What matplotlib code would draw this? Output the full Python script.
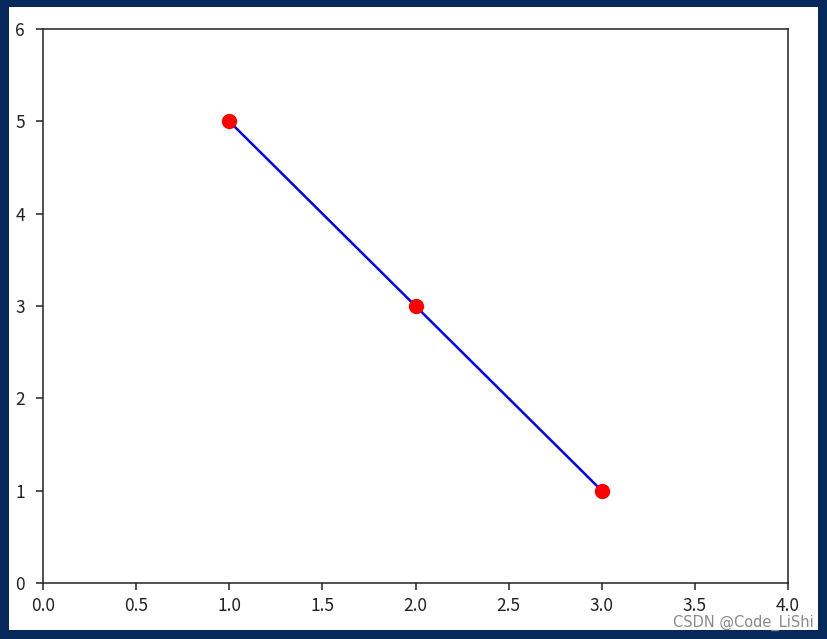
import matplotlib.pyplot as plt
from matplotlib.patches import Rectangle

plt.rcParams['font.family'] = ['Noto Sans CJK SC', 'DejaVu Sans']

x = [1, 2, 3]
y = [5, 3, 1]
xticks = [0.0, 0.5, 1.0, 1.5, 2.0, 2.5, 3.0, 3.5, 4.0]
yticks = [0, 1, 2, 3, 4, 5, 6]

W, H = 827, 639
fig = plt.figure(figsize=(W / 100, H / 100), dpi=100, facecolor='#06285a')
# white page inside the dark frame
fig.patches.append(Rectangle((9 / W, 9 / H), (818 - 9) / W, (632 - 9) / H,
                             transform=fig.transFigure, facecolor='white',
                             edgecolor='none', zorder=-10))

ax = fig.add_axes([43 / W, (H - 583) / H, (788 - 43) / W, (583 - 29) / H])
ax.set_zorder(5)
ax.plot(x, y, color='blue', lw=1.8, zorder=2)
ax.scatter(x, y, color='red', s=100, zorder=3)
ax.set_xlim(0, 4)
ax.set_ylim(0, 6)
ax.set_xticks(xticks)
ax.set_xticklabels(['%.1f' % t for t in xticks])
ax.set_yticks(yticks)
for s in ax.spines.values():
    s.set_linewidth(1.1)
    s.set_color('#222222')
ax.tick_params(labelsize=12.5, width=1.1, length=5, colors='#222222')
ax.tick_params(axis='x', pad=5)
ax.tick_params(axis='y', pad=8)

fig.text(814 / W, (H - 631) / H, 'CSDN @Code_LiShi', ha='right', va='bottom',
         fontsize=10.5, color='#8a8a8a', family='DejaVu Sans', zorder=10)

fig.savefig('out.png', dpi=100, facecolor=fig.get_facecolor())
